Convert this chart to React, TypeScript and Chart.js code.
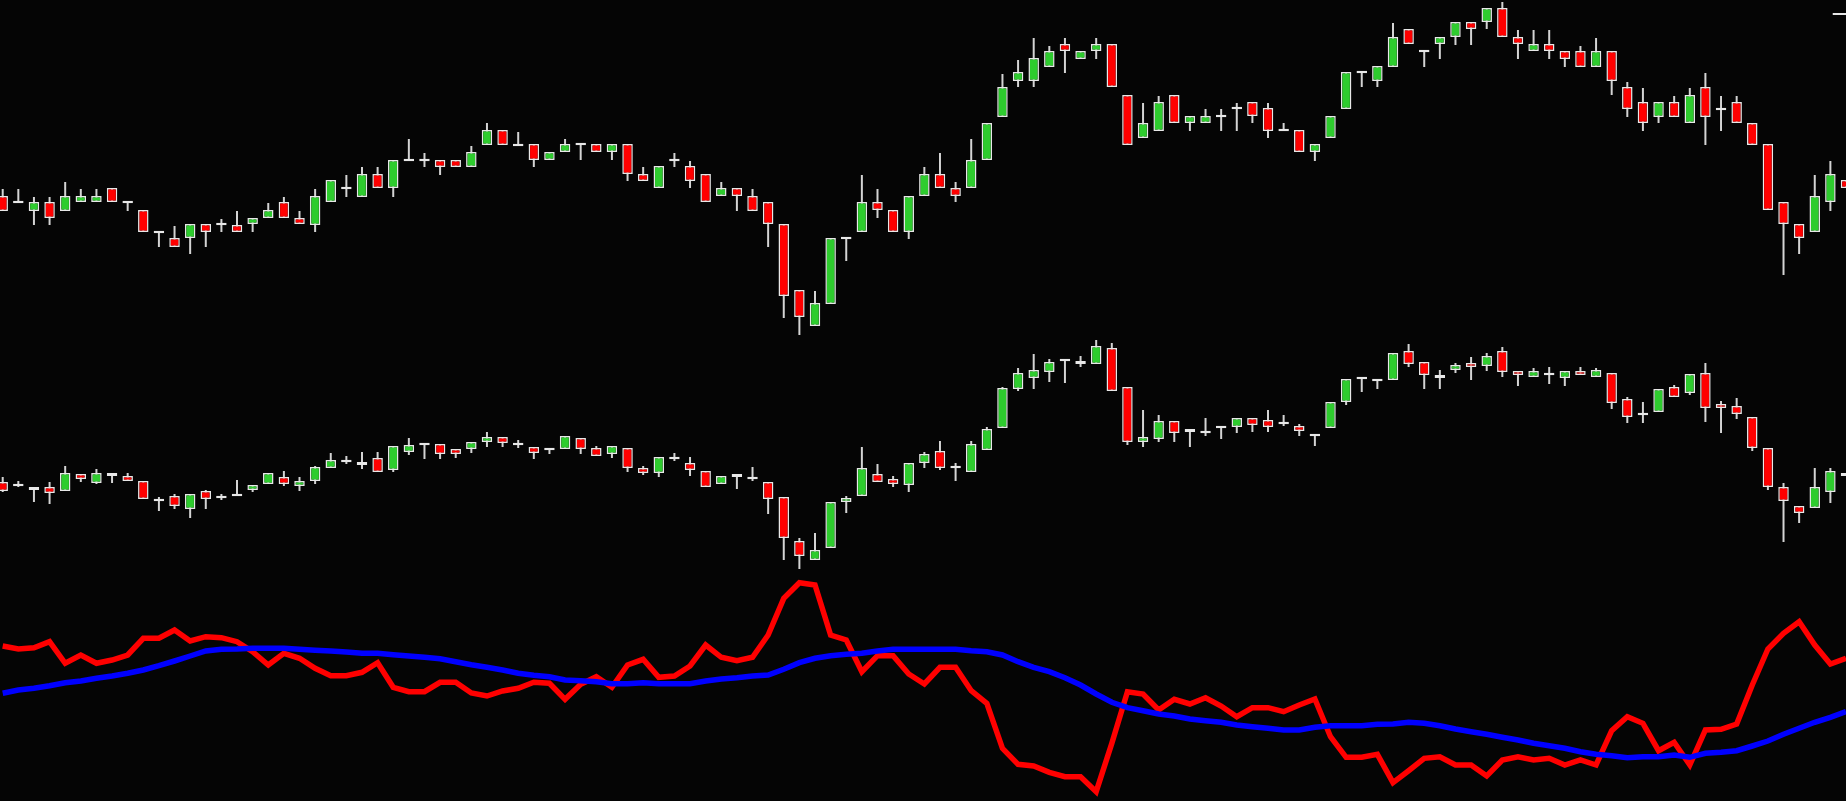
import React, { useEffect, useRef } from "react";
import { Chart, registerables } from "chart.js";

Chart.register(...registerables);

// Upper instrument (OHLC)
const topOpen = [804,798,789,798,789,798,798,812,798,790,768,762,762,776,776,775,776,782,798,782,775,798,812,803,826,812,840,840,840,840,833,855,870,855,856,840,848,856,856,848,856,826,812,840,834,826,804,812,804,798,776,710,674,696,762,768,798,790,768,804,826,812,812,840,883,919,919,933,956,941,949,956,905,862,869,905,877,877,884,892,898,892,870,870,848,862,891,928,919,933,971,949,956,963,978,978,992,963,949,956,949,949,933,949,913,898,883,898,877,913,891,898,877,856,798,776,768,798,820];
const topHigh = [811,811,803,803,818,811,811,812,798,790,768,774,776,776,781,789,782,797,803,789,811,820,825,833,833,840,861,847,840,840,854,877,870,868,856,848,861,856,856,856,856,833,834,847,839,826,818,812,811,798,776,710,709,762,762,825,811,790,804,833,847,818,861,877,926,940,962,954,962,949,962,956,905,897,904,905,884,891,891,897,898,897,877,870,856,884,928,928,934,977,971,949,963,978,978,992,998,970,970,970,949,954,962,949,918,912,898,904,912,927,904,904,877,856,798,776,825,839,820];
const topLow = [789,798,775,775,789,798,798,798,789,768,753,753,746,753,768,768,768,782,782,776,768,798,803,803,812,803,840,833,825,833,833,855,855,855,833,840,848,840,848,840,819,819,812,833,812,798,804,789,789,753,682,665,674,696,739,768,782,768,761,804,812,798,812,840,883,913,913,933,927,941,941,913,855,862,869,877,869,877,869,869,877,862,870,848,839,862,891,913,913,933,956,933,941,955,955,971,963,941,949,941,933,933,933,905,883,869,877,883,877,855,869,877,855,790,725,746,768,789,812];
const topClose = [789,798,798,782,804,804,804,798,798,768,768,753,776,768,776,768,782,790,782,776,804,820,812,826,812,840,840,840,833,833,848,870,855,855,840,848,856,856,848,856,826,819,834,840,819,798,812,804,789,776,704,683,697,762,762,798,790,768,804,826,812,804,840,877,913,928,942,949,949,949,956,913,855,877,898,877,884,884,884,892,884,869,870,848,856,884,928,928,934,963,956,949,963,978,971,992,963,956,956,949,941,933,949,919,891,877,898,883,905,883,891,877,855,790,776,762,804,826,812];

// Lower instrument (OHLC)
const midOpen = [518,515,510,513,509,526,517,527,524,519,500,504,491,509,503,505,510,516,523,514,519,532,539,535,542,530,548,556,556,551,551,558,563,556,553,551,551,562,552,546,552,532,527,542,537,529,516,523,522,518,503,459,440,452,498,504,526,521,515,537,549,533,528,550,572,611,622,628,640,636,636,652,613,558,561,579,568,568,573,573,582,580,577,574,565,572,598,622,620,620,649,638,622,630,637,634,649,629,623,626,622,629,623,627,601,586,588,613,607,627,596,594,583,552,513,494,492,508,527];
const midHigh = [523,519,513,518,534,526,531,527,527,519,503,506,506,510,506,520,515,527,529,523,534,547,544,548,548,554,562,556,556,551,558,568,563,560,553,551,564,562,554,554,552,534,543,547,543,529,524,526,533,518,503,462,467,498,504,553,536,524,537,548,559,537,559,573,613,632,646,641,640,644,660,657,613,590,585,579,571,582,573,582,582,590,585,576,565,598,621,622,620,647,656,638,630,637,643,647,653,629,632,633,629,633,632,627,603,598,611,615,626,637,599,602,583,552,517,494,532,532,527];
const midLow = [508,513,498,496,509,518,516,517,519,501,489,491,482,491,500,505,508,516,514,509,516,532,536,531,528,528,545,541,541,542,547,553,553,552,541,546,551,546,544,542,528,525,523,539,524,513,516,511,519,486,440,431,440,452,487,504,518,513,508,532,530,519,528,550,572,609,611,618,617,633,636,609,555,553,558,558,553,564,561,567,568,568,574,564,554,572,595,608,611,620,633,611,611,627,620,629,623,614,623,616,614,625,623,591,577,577,588,603,605,578,567,581,549,510,458,477,492,497,524];
const midClose = [509,515,513,507,527,521,527,524,519,501,500,494,506,501,503,505,515,527,516,519,533,540,539,538,528,554,555,556,546,546,558,563,557,556,547,551,564,551,544,554,532,527,543,542,530,513,524,526,522,501,462,444,450,498,502,532,518,516,537,546,532,533,556,571,612,627,630,638,640,639,654,609,558,563,579,567,571,568,573,582,575,573,577,569,565,598,621,622,620,647,636,625,625,635,633,644,628,625,629,626,629,625,630,597,583,586,611,603,626,592,592,586,552,513,499,487,513,529,524];

// Oscillator (red) and its moving average (blue)
const oscillator = [155,152,153.3,159.3,137.7,146,137.7,141,146,162.7,162.7,171,160,164.3,163.3,159.3,149.3,136,147.7,142.7,132.7,125.3,125.3,128.7,138.3,113.7,109.3,109.3,118.7,118.7,108,105,110,112.7,118.7,117.7,101.7,116.7,124.3,113.7,136,141.7,123.7,125,135,156,143.7,140.3,143.7,166,202.7,218.3,216,166,161,129.3,145.3,145.3,127,117,133.7,133.7,110.3,97.7,52.7,36.7,35,28.7,24.3,24.3,9.3,57.7,109.3,107,91,101.7,97,103.3,95,84.3,93.3,93.3,89.3,96,102,64.3,43.7,43.7,46.7,18.3,30.3,42.7,44.3,36,36,25,41,44.3,41,42.7,36,41,36,70.3,84.3,77.7,50.3,58.7,36,71,71.7,77,116,152,167.7,179.3,156,137,142.7];
const signal = [107.7,111,112.7,115.3,118.3,120,122.7,125,127.7,131,135.3,140,145,150,151.7,152,152.7,152.7,152.7,151.7,150.7,150,149,147.7,147.7,146.3,145,143.7,142.3,139.3,136.3,133.7,131,127.7,125.7,124.3,121,120.3,119.3,117.3,117.3,118.3,117.3,117.3,117.3,120,122,123.3,125,126,131.7,138.3,142.7,145.3,146.7,147.7,150,151.7,151.7,151.7,151.7,151.7,150.3,149.3,146,139.3,133.7,129.3,123.3,116,107,98.7,93.3,90.3,87,85,82,80.3,78.7,76,74.3,72.7,71,71,73.7,75.3,75.3,75.3,76.7,77,78.7,77.7,75.3,72,69.3,66.7,63.7,61,57.7,55.3,52.7,49.3,46.7,45.3,43.3,44.3,44.3,46,43.7,47.7,48.7,50.3,55,60,66.7,72.7,78.7,83.7,89.3];

// Last-price marker at the top right
const markerLevel = [986];
const markerSpan = [117.15, 118.3];

const RED = "#ff0000";
const GREEN = "#2ecc2e";
const BORDER = "#e8e8e8";
const WICK = "#d4d4d4";

function candleDatasets(open: number[], high: number[], low: number[], close: number[], name: string) {
  const idx = open.map((_, i) => i);
  const body = (o: number, c: number) => {
    if (Math.abs(c - o) < 2.4) {
      const m = (o + c) / 2;
      return [m - 1.2, m + 1.2];
    }
    return [o, c];
  };
  return [
    {
      type: "bar" as const,
      label: name + " wick",
      data: idx.map((i) => ({ x: i, y: [low[i], high[i]] })),
      backgroundColor: WICK,
      borderWidth: 0,
      grouped: false,
      order: 3,
      categoryPercentage: 1,
      barPercentage: 0.13,
      maxBarThickness: 2,
      yAxisID: "y",
    },
    {
      type: "bar" as const,
      label: name,
      data: idx.map((i) => ({ x: i, y: body(open[i], close[i]) })),
      backgroundColor: idx.map((i) => (close[i] > open[i] ? GREEN : close[i] < open[i] ? RED : BORDER)),
      borderColor: BORDER,
      borderWidth: 1.5,
      borderSkipped: false,
      grouped: false,
      order: 2,
      categoryPercentage: 1,
      barPercentage: 0.68,
      maxBarThickness: 10.5,
      yAxisID: "y",
    },
  ];
}

export default function App() {
  const ref = useRef<HTMLCanvasElement | null>(null);

  useEffect(() => {
    if (!ref.current) return;
    const chart = new Chart(ref.current, {
      type: "bar",
      data: {
        datasets: [
          ...candleDatasets(topOpen, topHigh, topLow, topClose, "Upper"),
          ...candleDatasets(midOpen, midHigh, midLow, midClose, "Lower"),
          {
            type: "line",
            label: "Oscillator",
            data: oscillator.map((v, i) => ({ x: i, y: v })),
            borderColor: "#ff0000",
            borderWidth: 5.5,
            pointRadius: 0,
            tension: 0,
            fill: false,
            order: 1,
            yAxisID: "yOsc",
          },
          {
            type: "line",
            label: "Signal",
            data: signal.map((v, i) => ({ x: i, y: v })),
            borderColor: "#0000ff",
            borderWidth: 5.5,
            pointRadius: 0,
            tension: 0,
            fill: false,
            order: 0,
            yAxisID: "yOsc",
          },
          {
            type: "line",
            label: "Marker",
            data: markerSpan.map((x) => ({ x, y: markerLevel[0] })),
            borderColor: BORDER,
            borderWidth: 2,
            pointRadius: 0,
            fill: false,
            order: 0,
            yAxisID: "y",
          },
        ] as any,
      },
      options: {
        responsive: false,
        devicePixelRatio: 1,
        animation: false,
        events: [],
        layout: { padding: 0 },
        plugins: { legend: { display: false }, tooltip: { enabled: false } },
        scales: {
          x: { type: "linear", display: false, offset: false, min: -0.173, max: 118.0 },
          y: { type: "linear", display: false, min: 199, max: 1000 },
          yOsc: { type: "linear", display: false, min: 0, max: 801 },
        },
      } as any,
    });
    return () => chart.destroy();
  }, []);

  return (
    <div
      style={{
        position: "fixed",
        left: 0,
        top: 0,
        width: 1846,
        height: 801,
        background: "#050505",
        overflow: "hidden",
      }}
    >
      <canvas ref={ref} width={1846} height={801} style={{ display: "block", width: 1846, height: 801 }} />
    </div>
  );
}
